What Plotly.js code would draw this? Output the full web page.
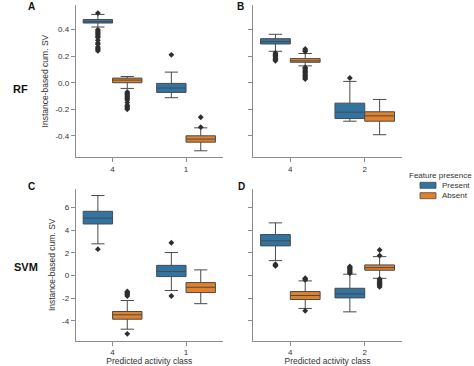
<!DOCTYPE html>
<html>
<head>
<meta charset="utf-8">
<script src="https://cdn.plot.ly/plotly-3.0.1.min.js"></script>
<style>html,body{margin:0;padding:0;background:#fff}#chart{width:474px;height:366px}</style>
</head>
<body>
<div id="chart"></div>
<script>
// ---------------- data ----------------
// categories (predicted activity class) per panel
const classesA = ['4', '1'];
const classesB = ['4', '2'];
const classesC = ['4', '1'];
const classesD = ['4', '2'];
const seriesNames = ['Present', 'Absent'];

// box stats per category: [lowerfence, q1, median, q3, upperfence]
const A_present = [[0.42, 0.45, 0.46, 0.477, 0.515], [-0.113, -0.073, -0.04, -0.005, 0.08]];
const A_absent  = [[-0.043, 0.0, 0.02, 0.035, 0.047], [-0.513, -0.448, -0.425, -0.40, -0.34]];
const B_present = [[0.237, 0.292, 0.31, 0.332, 0.365], [-0.29, -0.27, -0.222, -0.154, 0.01]];
const B_absent  = [[0.127, 0.154, 0.165, 0.182, 0.22], [-0.392, -0.29, -0.25, -0.219, -0.126]];
const C_present = [[2.8, 4.55, 5.06, 5.67, 7.06], [-1.32, -0.09, 0.35, 0.9, 2.03]];
const C_absent  = [[-4.73, -3.85, -3.46, -3.17, -2.2], [-2.48, -1.5, -1.03, -0.62, 0.5]];
const D_present = [[1.32, 2.62, 3.07, 3.62, 4.65], [-3.2, -1.97, -1.61, -1.12, 0.12]];
const D_absent  = [[-2.9, -2.11, -1.76, -1.41, -0.47], [-0.24, 0.47, 0.7, 0.94, 1.67]];

// outliers per category
const A_presentOut = [[0.525, 0.40, 0.39, 0.38, 0.37, 0.36, 0.35, 0.34, 0.32, 0.30, 0.29, 0.27, 0.26, 0.25, 0.24], [0.21]];
const A_absentOut  = [[-0.07, -0.08, -0.09, -0.10, -0.11, -0.12, -0.13, -0.15, -0.17, -0.18, -0.19, -0.20], [-0.335, -0.26]];
const B_presentOut = [[0.225, 0.215, 0.205, 0.195, 0.185, 0.175, 0.165], [0.036]];
const B_absentOut  = [[0.235, 0.245, 0.255, 0.115, 0.105, 0.095, 0.085, 0.075, 0.065, 0.055, 0.045, 0.035, 0.028], []];
const C_presentOut = [[2.33], [2.9, -1.8]];
const C_absentOut  = [[-1.4, -1.5, -1.6, -1.7, -1.8, -5.14], []];
const D_presentOut = [[1.0, 0.9, 0.85], [0.2, 0.3, 0.4, 0.5, 0.6, 0.7, 0.8]];
const D_absentOut  = [[-0.24, -0.3, -0.38, -3.11], [1.76, 2.26, -0.3, -0.4, -0.5, -0.6, -0.7, -0.8, -0.9, -1.0]];

// tick labels
const yTicksTop = [-0.4, -0.2, 0, 0.2, 0.4];
const yTickTextTop = ['-0.4', '-0.2', '0.0', '0.2', '0.4'];
const yTicksBot = [-4, -2, 0, 2, 4, 6];
const yTickTextBot = ['-4', '-2', '0', '2', '4', '6'];

// ---------------- styling ----------------
const colors = ['#3274a1', '#e1812c'];
const lineCol = '#4a4a4a';
const axisCol = '#8c8c8c';
const textCol = '#333333';
const FONT = 'Liberation Sans, Arial, sans-serif';
const W = 474, H = 366;
const OFF = 0.2, BW = 0.4;

const traces = [];
function addPanel(xa, ya, stats, outs) {
  stats.forEach((st, s) => {
    const pos = st.map((_, i) => i + (s === 0 ? -OFF : OFF));
    traces.push({
      type: 'box', xaxis: xa, yaxis: ya, name: seriesNames[s], showlegend: false,
      x: pos,
      lowerfence: st.map(d => d[0]), q1: st.map(d => d[1]), median: st.map(d => d[2]),
      q3: st.map(d => d[3]), upperfence: st.map(d => d[4]),
      width: BW, whiskerwidth: 0.45, boxpoints: false,
      fillcolor: colors[s], line: {color: lineCol, width: 1},
      hoverinfo: 'skip'
    });
    const ox = [], oy = [];
    outs[s].forEach((arr, i) => arr.forEach(v => { ox.push(pos[i]); oy.push(v); }));
    traces.push({
      type: 'scatter', mode: 'markers', xaxis: xa, yaxis: ya, showlegend: false,
      x: ox, y: oy, hoverinfo: 'skip', cliponaxis: false,
      marker: {symbol: 'diamond', size: 4.5, color: '#2e2e2e'}
    });
  });
}
addPanel('x', 'y', [A_present, A_absent], [A_presentOut, A_absentOut]);
addPanel('x2', 'y2', [B_present, B_absent], [B_presentOut, B_absentOut]);
addPanel('x3', 'y3', [C_present, C_absent], [C_presentOut, C_absentOut]);
addPanel('x4', 'y4', [D_present, D_absent], [D_presentOut, D_absentOut]);

const baseAx = {
  showline: true, linecolor: axisCol, linewidth: 1, mirror: false,
  ticks: 'outside', ticklen: 4, tickcolor: axisCol, tickwidth: 1,
  showgrid: false, zeroline: false,
  tickfont: {family: FONT, size: 8, color: textCol}
};
const xTitle = {text: 'Predicted activity class', font: {family: FONT, size: 8.5, color: textCol}, standoff: 2};
const yTitle = {text: 'Instance-based cum. SV', font: {family: FONT, size: 8.5, color: textCol}, standoff: 5};
const xL = [0.160, 0.470], xR = [0.534, 0.848];
const yT = [0.571, 0.986], yB = [0.069, 0.484];
const rTop = [-0.56, 0.585], rBot = [-5.75, 7.65];
const xr = [-0.5, 1.5];

function ax(extra) { return Object.assign({}, baseAx, extra); }
const px = v => v / W, py = v => 1 - v / H;

const annotations = [];
function label(text, x, y, size, bold, anchor) {
  annotations.push({
    text: bold ? '<b>' + text + '</b>' : text, xref: 'paper', yref: 'paper',
    x: px(x), y: py(y), xanchor: anchor || 'center', yanchor: 'middle', showarrow: false,
    font: {family: FONT, size: size, color: bold ? '#111' : textCol}
  });
}
label('A', 31, 6, 10, true);
label('B', 240, 6, 10, true);
label('C', 32, 186, 10, true);
label('D', 241, 186, 10, true);
label('RF', 11, 89, 11, true, 'left');
label('SVM', 12, 267, 11, true, 'left');
// legend
label('Feature presence', 407, 175, 8, false, 'left');
const shapes = [];
seriesNames.forEach((n, i) => {
  const yc = 185.3 + i * 10.4;
  shapes.push({type: 'rect', xref: 'paper', yref: 'paper', x0: px(420), x1: px(436),
    y0: py(yc + 3), y1: py(yc - 3), fillcolor: colors[i], line: {color: lineCol, width: 0.8}});
  label(n, 440, yc, 8, false, 'left');
});

const layout = {
  width: W, height: H, margin: {l: 0, r: 0, t: 0, b: 0},
  paper_bgcolor: '#fff', plot_bgcolor: '#fff', showlegend: false,
  font: {family: FONT, color: textCol},
  xaxis: ax({domain: xL, anchor: 'y', range: xr, tickvals: [0, 1], ticktext: classesA}),
  xaxis2: ax({domain: xR, anchor: 'y2', range: xr, tickvals: [0, 1], ticktext: classesB}),
  xaxis3: ax({domain: xL, anchor: 'y3', range: xr, tickvals: [0, 1], ticktext: classesC, title: xTitle}),
  xaxis4: ax({domain: xR, anchor: 'y4', range: xr, tickvals: [0, 1], ticktext: classesD, title: xTitle}),
  yaxis: ax({domain: yT, anchor: 'x', range: rTop, tickvals: yTicksTop, ticktext: yTickTextTop, title: yTitle}),
  yaxis2: ax({domain: yT, anchor: 'x2', range: rTop, tickvals: yTicksTop, showticklabels: false}),
  yaxis3: ax({domain: yB, anchor: 'x3', range: rBot, tickvals: yTicksBot, ticktext: yTickTextBot, title: yTitle}),
  yaxis4: ax({domain: yB, anchor: 'x4', range: rBot, tickvals: yTicksBot, showticklabels: false}),
  annotations: annotations, shapes: shapes
};

Plotly.newPlot('chart', traces, layout, {displayModeBar: false, staticPlot: true});
</script>
</body>
</html>
